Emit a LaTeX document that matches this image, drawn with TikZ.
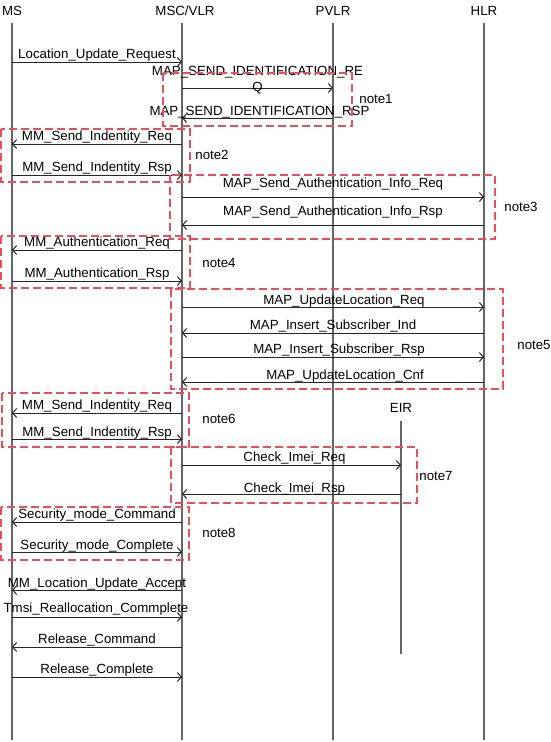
\documentclass[tikz,border=0pt]{standalone}
\usepackage{fontspec}
\setmainfont{Liberation Sans}
\usetikzlibrary{arrows.meta}
\definecolor{notered}{RGB}{234,78,90}
\definecolor{linegray}{RGB}{100,100,100}
\tikzset{
	every node/.style={font=\fontsize{13.3}{16}\selectfont}, % Letra de todos los textos
	lifeline/.style={draw=linegray, line width=1.5pt}, % Lineas de vida
	msg/.style={draw=black!85, line width=1pt, -{Straight Barb[length=4pt,width=9pt]}}, % Mensajes
	lbl/.style={above, inner sep=0pt}, % Texto sobre el mensaje
	notebox/.style={draw=notered, line width=1.2pt, dash pattern=on 8pt off 4pt} % Recuadro de nota
}

\begin{document}
\begin{tikzpicture}[x=1pt, y=-1pt]
	\useasboundingbox (0,0) rectangle (551,742);
	% entidades
	\node (msH) at (12,11) {MS};
	\node (mscH) at (185,11) {MSC/VLR};
	\node (pvlrH) at (333,11) {PVLR};
	\node (hlrH) at (484,11) {HLR};
	\node (eirH) at (401,408) {EIR};
	\coordinate (ms) at (12,23);
	\coordinate (msc) at (182,23);
	\coordinate (pvlr) at (333,23);
	\coordinate (hlr) at (484,23);
	\coordinate (eir) at (401,421);
	% lineas de vida
	\draw[lifeline] (ms) -- (ms |- 0,740);
	\draw[lifeline] (msc) -- (msc |- 0,740);
	\draw[lifeline] (pvlr) -- (pvlr |- 0,740);
	\draw[lifeline] (hlr) -- (hlr |- 0,740);
	\draw[lifeline] (eir) -- (eir |- 0,654);
	% mensajes
	\draw[msg] (ms |- 0,62) -- node[lbl]{Location\_Update\_Request} (msc |- 0,62);
	\draw[msg] (msc |- 0,88) -- node[lbl, anchor=center, align=center, yshift=8pt]{MAP\_SEND\_IDENTIFICATION\_RE\\Q} (pvlr |- 0,88);
	\draw[msg] (pvlr |- 0,118) -- node[lbl, xshift=2pt, yshift=-1pt]{MAP\_SEND\_IDENTIFICATION\_RSP} (msc |- 0,118);
	\draw[msg] (msc |- 0,144) -- node[lbl]{MM\_Send\_Indentity\_Req} (ms |- 0,144);
	\draw[msg] (ms |- 0,175) -- node[lbl]{MM\_Send\_Indentity\_Rsp} (msc |- 0,175);
	\draw[msg] (msc |- 0,197) -- node[lbl, yshift=6pt]{MAP\_Send\_Authentication\_Info\_Req} (hlr |- 0,197);
	\draw[msg] (hlr |- 0,225) -- node[lbl, yshift=6pt]{MAP\_Send\_Authentication\_Info\_Rsp} (msc |- 0,225);
	\draw[msg] (msc |- 0,250) -- node[lbl]{MM\_Authentication\_Req} (ms |- 0,250);
	\draw[msg] (ms |- 0,281) -- node[lbl]{MM\_Authentication\_Rsp} (msc |- 0,281);
	\draw[msg] (msc |- 0,307) -- node[lbl, xshift=11pt, yshift=-1pt]{MAP\_UpdateLocation\_Req} (hlr |- 0,307);
	\draw[msg] (hlr |- 0,333) -- node[lbl]{MAP\_Insert\_Subscriber\_Ind} (msc |- 0,333);
	\draw[msg] (msc |- 0,357) -- node[lbl, xshift=6pt]{MAP\_Insert\_Subscriber\_Rsp} (hlr |- 0,357);
	\draw[msg] (hlr |- 0,382) -- node[lbl, xshift=12pt, yshift=-1pt]{MAP\_UpdateLocation\_Cnf} (msc |- 0,382);
	\draw[msg] (msc |- 0,413) -- node[lbl]{MM\_Send\_Indentity\_Req} (ms |- 0,413);
	\draw[msg] (ms |- 0,439) -- node[lbl, yshift=-1pt]{MM\_Send\_Indentity\_Rsp} (msc |- 0,439);
	\draw[msg] (msc |- 0,465) -- node[lbl, xshift=3pt]{Check\_Imei\_Req} (eir |- 0,465);
	\draw[msg] (eir |- 0,494) -- node[lbl, xshift=3pt, yshift=-2pt]{Check\_Imei\_Rsp} (msc |- 0,494);
	\draw[msg] (msc |- 0,522) -- node[lbl]{Security\_mode\_Command} (ms |- 0,522);
	\draw[msg] (ms |- 0,552) -- node[lbl, yshift=-1pt]{Security\_mode\_Complete} (msc |- 0,552);
	\draw[msg] (msc |- 0,590) -- node[lbl, yshift=-1pt]{MM\_Location\_Update\_Accept} (ms |- 0,590);
	\draw[msg] (ms |- 0,617) -- node[lbl, xshift=-1pt, yshift=1pt]{Tmsi\_Reallocation\_Commplete} (msc |- 0,617);
	\draw[msg] (msc |- 0,647) -- node[lbl]{Release\_Command} (ms |- 0,647);
	\draw[msg] (ms |- 0,677) -- node[lbl]{Release\_Complete} (msc |- 0,677);
	% notas
	\draw[notebox] (163,73) rectangle (352,126);
	\draw[notebox] (1,129) rectangle (190,182);
	\draw[notebox] (170,175) rectangle (495,239);
	\draw[notebox] (1,236) rectangle (190,288);
	\draw[notebox] (171,289) rectangle (503,389);
	\draw[notebox] (2,393) rectangle (189,447);
	\draw[notebox] (171,447) rectangle (417,503);
	\draw[notebox] (1,507) rectangle (189,560);
	\node (note1) at (376,99) {note1};
	\node (note2) at (212,155) {note2};
	\node (note3) at (521,207) {note3};
	\node (note4) at (219,263) {note4};
	\node (note5) at (534,345) {note5};
	\node (note6) at (219,419) {note6};
	\node (note7) at (436,476) {note7};
	\node (note8) at (219,533) {note8};
\end{tikzpicture}
\end{document}
